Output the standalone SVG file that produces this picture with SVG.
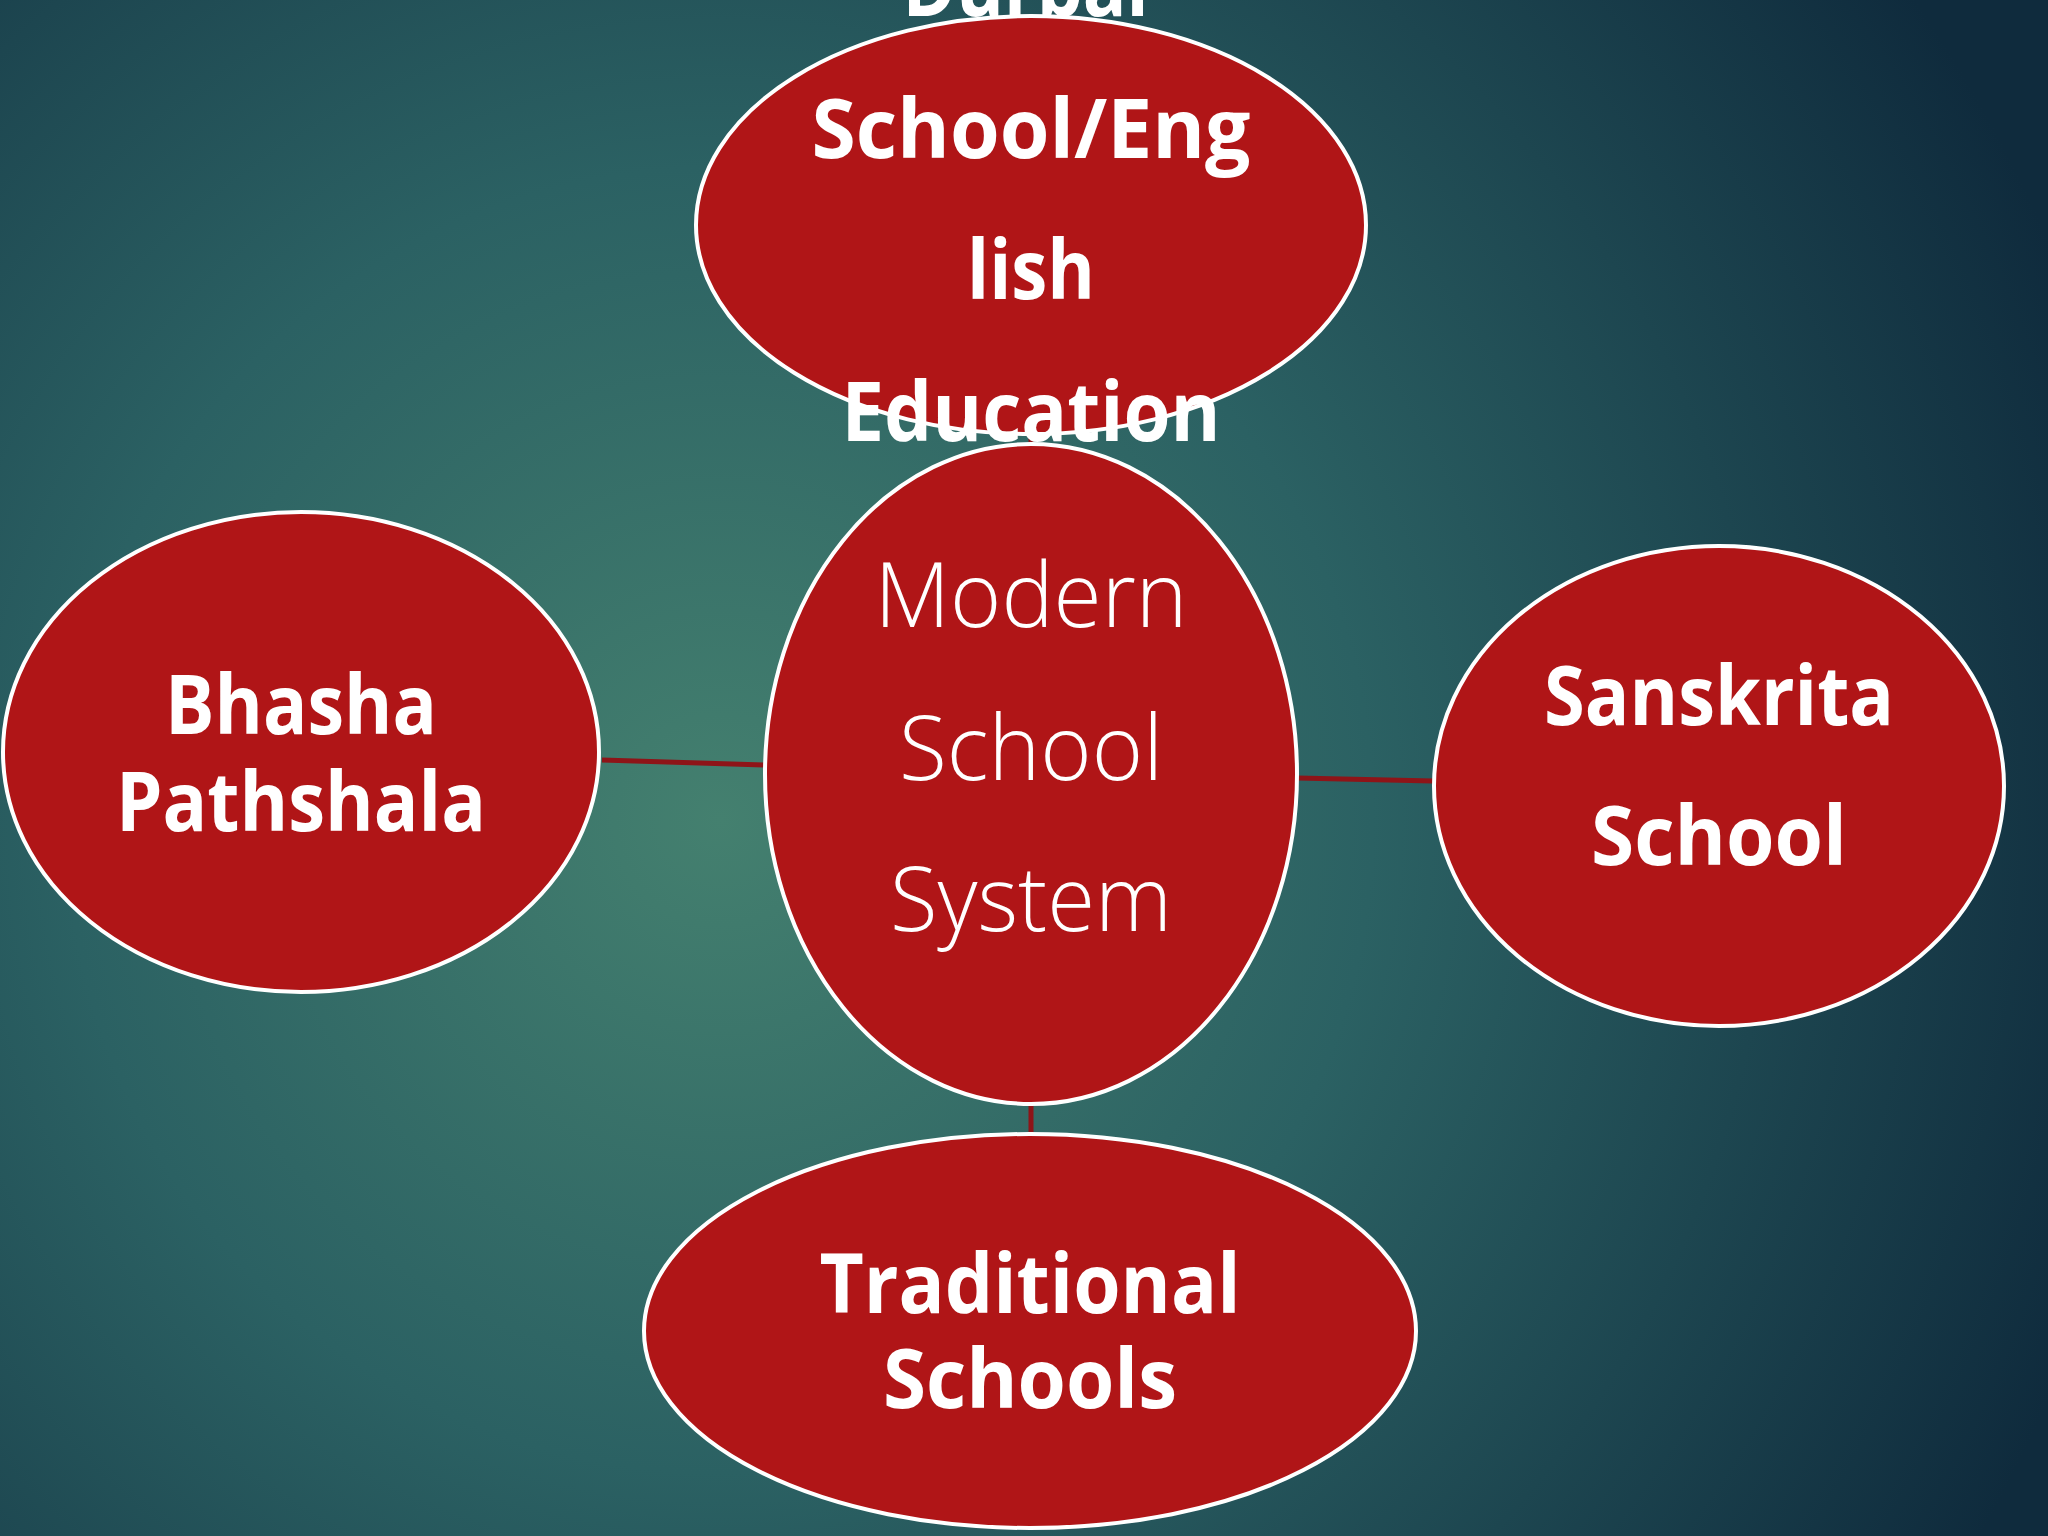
<svg xmlns="http://www.w3.org/2000/svg" width="2048" height="1536" viewBox="0 0 2048 1536">
  <defs>
    <radialGradient id="bg" gradientUnits="userSpaceOnUse" cx="720" cy="820" r="1450">
      <stop offset="0" stop-color="#44806f"/>
      <stop offset="0.45" stop-color="#2b6163"/>
      <stop offset="1" stop-color="#0f2b3d"/>
    </radialGradient>
    <style>
      .node { fill: #b01517; stroke: #ffffff; stroke-width: 4; }
      .conn { stroke: #8e1418; stroke-width: 5; fill: none; }
      .bold { font-family: "Open Sans", "Noto Sans", "Liberation Sans", sans-serif; font-weight: 700; font-size: 82px; fill: #ffffff; text-anchor: middle; }
      .light { font-family: "Open Sans", "Noto Sans", "Liberation Sans", sans-serif; font-weight: 300; font-size: 90px; fill: #ffffff; text-anchor: middle; }
    </style>
  </defs>
  <rect x="0" y="0" width="2048" height="1536" fill="url(#bg)"/>

  <g id="connectors">
    <line class="conn" x1="602" y1="760" x2="767" y2="765"/>
    <line class="conn" x1="1297" y1="778" x2="1433" y2="781"/>
    <line class="conn" x1="1031" y1="1104" x2="1031" y2="1135"/>
    <line class="conn" x1="1031" y1="434" x2="1031" y2="445"/>
  </g>

  <g id="node-modern">
    <ellipse class="node" cx="1031" cy="774" rx="266" ry="330"/>
    <text class="light" x="1031" y="627" textLength="313" lengthAdjust="spacingAndGlyphs">Modern</text>
    <text class="light" x="1031" y="780" textLength="264" lengthAdjust="spacingAndGlyphs">School</text>
    <text class="light" x="1031" y="931" textLength="282" lengthAdjust="spacingAndGlyphs">System</text>
  </g>

  <g id="node-durbar">
    <ellipse class="node" cx="1031" cy="225" rx="335" ry="209"/>
    <text class="bold" x="1031" y="16" textLength="257" lengthAdjust="spacingAndGlyphs">Durbar</text>
    <text class="bold" x="1031" y="158" textLength="439" lengthAdjust="spacingAndGlyphs">School/Eng</text>
    <text class="bold" x="1031" y="299" textLength="128" lengthAdjust="spacingAndGlyphs">lish</text>
    <text class="bold" x="1031" y="441" textLength="379" lengthAdjust="spacingAndGlyphs">Education</text>
  </g>

  <g id="node-bhasha">
    <ellipse class="node" cx="301" cy="752" rx="298" ry="240"/>
    <text class="bold" x="301" y="734" textLength="272" lengthAdjust="spacingAndGlyphs">Bhasha</text>
    <text class="bold" x="301" y="831" textLength="370" lengthAdjust="spacingAndGlyphs">Pathshala</text>
  </g>

  <g id="node-sanskrita">
    <ellipse class="node" cx="1719" cy="786" rx="285" ry="240"/>
    <text class="bold" x="1719" y="725" textLength="350" lengthAdjust="spacingAndGlyphs">Sanskrita</text>
    <text class="bold" x="1719" y="865" textLength="256" lengthAdjust="spacingAndGlyphs">School</text>
  </g>

  <g id="node-traditional">
    <ellipse class="node" cx="1030" cy="1331" rx="386" ry="197"/>
    <text class="bold" x="1030" y="1313" textLength="421" lengthAdjust="spacingAndGlyphs">Traditional</text>
    <text class="bold" x="1030" y="1408" textLength="294" lengthAdjust="spacingAndGlyphs">Schools</text>
  </g>
</svg>
